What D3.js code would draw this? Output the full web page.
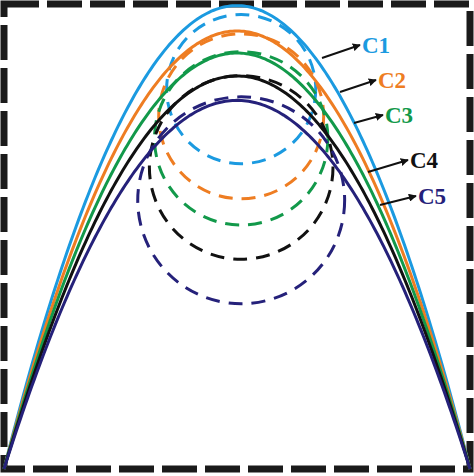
<!DOCTYPE html><html><head><meta charset="utf-8">
<script src="https://cdn.jsdelivr.net/npm/d3@7"></script>
<style>body{margin:0;background:#fff}</style></head><body><svg id="c" width="474" height="476"></svg>
<script>
const categories=["C1","C2","C3","C4","C5"];
const colors=["#1b9ae0","#ee7d22","#12994a","#111111","#25217a"];
const peaks=[98.8,93.4,88.7,83.8,78.6];      // parabola peak height (0..100)
const circleCx=0.9;                          // dashed circle centre x
const circleCy=[81.0,75.2,70.5,64.3,57.3];   // dashed circle centre height
const circleR=[16.0,17.7,18.6,19.7,22.2];    // dashed circle radius (x units)
const labelPos=[[362,53],[378,88],[385,123],[410,168],[418,204]];
const arrowFrom=[[322,58],[340,92],[354,123],[368,172],[380,205]];
const svg=d3.select("#c");
const x=d3.scaleLinear().domain([-50,50]).range([4,470]);
const y=d3.scaleLinear().domain([0,100]).range([469,0]);
const k=(x(1)-x(0));
svg.append("defs").selectAll("marker").data(categories).join("marker")
 .attr("id",(d,i)=>"a"+i).attr("viewBox","0 0 10 10").attr("refX",9).attr("refY",5)
 .attr("markerWidth",4).attr("markerHeight",4).attr("orient","auto")
 .append("path").attr("d","M0,0L10,5L0,10z").attr("fill","#111");
svg.append("rect").attr("x",4).attr("y",4).attr("width",466).attr("height",465)
 .attr("fill","none").attr("stroke","#1a1a1a").attr("stroke-width",7).attr("stroke-dasharray","35 8");
const xs=d3.range(-50,50.01,0.5);
const line=d3.line().x(d=>x(d[0])).y(d=>y(d[1]));
categories.forEach((c,i)=>{
 svg.append("circle").attr("cx",x(circleCx)).attr("cy",y(circleCy[i])).attr("r",circleR[i]*k)
  .attr("fill","none").attr("stroke",colors[i]).attr("stroke-width",3).attr("stroke-dasharray","14 9");
});
categories.forEach((c,i)=>{
 svg.append("path").attr("d",line(xs.map(v=>[v,peaks[i]*(1-(v/50)**2)])))
  .attr("fill","none").attr("stroke",colors[i]).attr("stroke-width",3);
});
categories.forEach((c,i)=>{
 svg.append("line").attr("x1",arrowFrom[i][0]).attr("y1",arrowFrom[i][1])
  .attr("x2",labelPos[i][0]-2).attr("y2",labelPos[i][1]-8).attr("stroke","#111").attr("stroke-width",2)
  .attr("marker-end","url(#a"+i+")");
 svg.append("text").attr("x",labelPos[i][0]).attr("y",labelPos[i][1]).text(c)
  .attr("fill",colors[i]).attr("font-family","Liberation Serif").attr("font-weight","bold").attr("font-size",23);
});
</script></body></html>
